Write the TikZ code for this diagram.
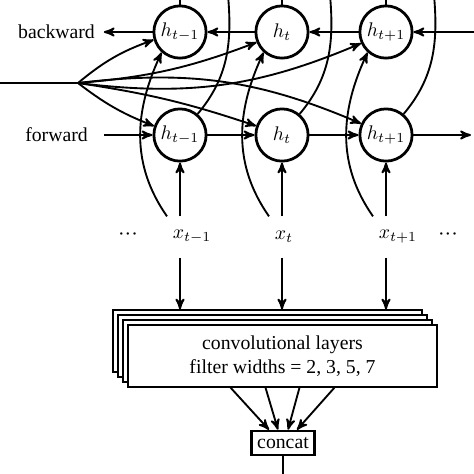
\documentclass[tikz,border=0pt]{standalone}
\usepackage{amsmath}
\usepackage{fontspec}
\setmainfont{Liberation Serif}
\usetikzlibrary{arrows, calc}

\tikzset{
  hid/.style={circle, draw, line width=1.4pt, minimum size=0.93cm, inner sep=0pt},
  xin/.style={anchor=west, inner xsep=2.5pt, minimum height=20pt},
  convbox/.style={draw, fill=white, line width=0.7pt, minimum width=5.5cm, minimum height=1.1cm},
  catbox/.style={draw, line width=1.2pt, minimum width=1.12cm, minimum height=0.43cm, inner sep=0pt}
}

\begin{document}
\begin{tikzpicture}[x=0.0178cm, y=0.0178cm, >=stealth', line width=0.95pt]
  \useasboundingbox (0,0) rectangle (474,-474);
  \clip (0,0) rectangle (474,-474);
  % hidden states and inputs
  \foreach \i/\x/\s in {1/180/t-1, 2/282/t, 3/386/t+1} {
    \node[hid] (hb\i) at (\x,-32) {$h_{\s}$};
    \node[hid] (hf\i) at (\x,-135) {$h_{\s}$};
    \node[xin] (x\i) at (\x-13,-237) {$x_{\s}$};
  }
  \node[minimum width=47pt] (bw) at (56.5,-32) {backward};
  \node[minimum width=47pt] (fw) at (56.5,-135) {forward};
  \node (dl) at (128,-237) {···};
  \node (dr) at (448,-237) {···};

  % backward and forward chains
  \coordinate (inb) at (480,-32);
  \coordinate (outf) at (471,-135);
  \draw[->] (inb) -- (hb3);
  \draw[->] (hb3) -- (hb2);
  \draw[->] (hb2) -- (hb1);
  \draw[->] (hb1) -- (bw);
  \draw[->] (fw) -- (hf1);
  \draw[->] (hf1) -- (hf2);
  \draw[->] (hf2) -- (hf3);
  \draw[->] (hf3) -- (outf);

  % shared input
  \coordinate (left) at (-5,-83);
  \coordinate (src) at (78,-83);
  \draw (left) -- (src);
  \foreach \n/\b in {hb1/10, hf1/-8, hb2/-8, hf2/5, hb3/-15, hf3/15}
    \draw[->] (src) to[bend left=\b] (\n);

  % inputs to both directions, outputs upwards
  \foreach \i in {1,2,3} {
    \draw[->] (hf\i |- x\i.north) -- (hf\i);
    \draw[->] (x\i.north west) to[out=125,in=-115] (hb\i.-132);
    \draw (hf\i.50) to[out=50,in=-85] ($(hf\i)+(48,140)$);
    \draw (hb\i) -- ($(hb\i)+(0,40)$);
  }

  % convolution
  \foreach \k in {3,2,1}
    \node[convbox] (conv\k) at (282.5-5*\k,-356+5*\k) {};
  \node[convbox, align=center] (conv) at (282.5,-356) {convolutional layers\\filter widths = 2, 3, 5, 7};
  \foreach \i in {1,2,3}
    \draw[->] (hf\i |- x\i.south) -- (hf\i |- conv3.north);
  \node[catbox] (concat) at (283,-443) {concat};
  \foreach \a/\b in {-52/-14, -17/-5, 17/5, 52/14}
    \draw[->] ($(conv.south)+(\a,0)$) -- ($(concat.north)+(\b,0)$);
  \coordinate (down) at (283,-480);
  \draw (concat) -- (down);
\end{tikzpicture}
\end{document}
